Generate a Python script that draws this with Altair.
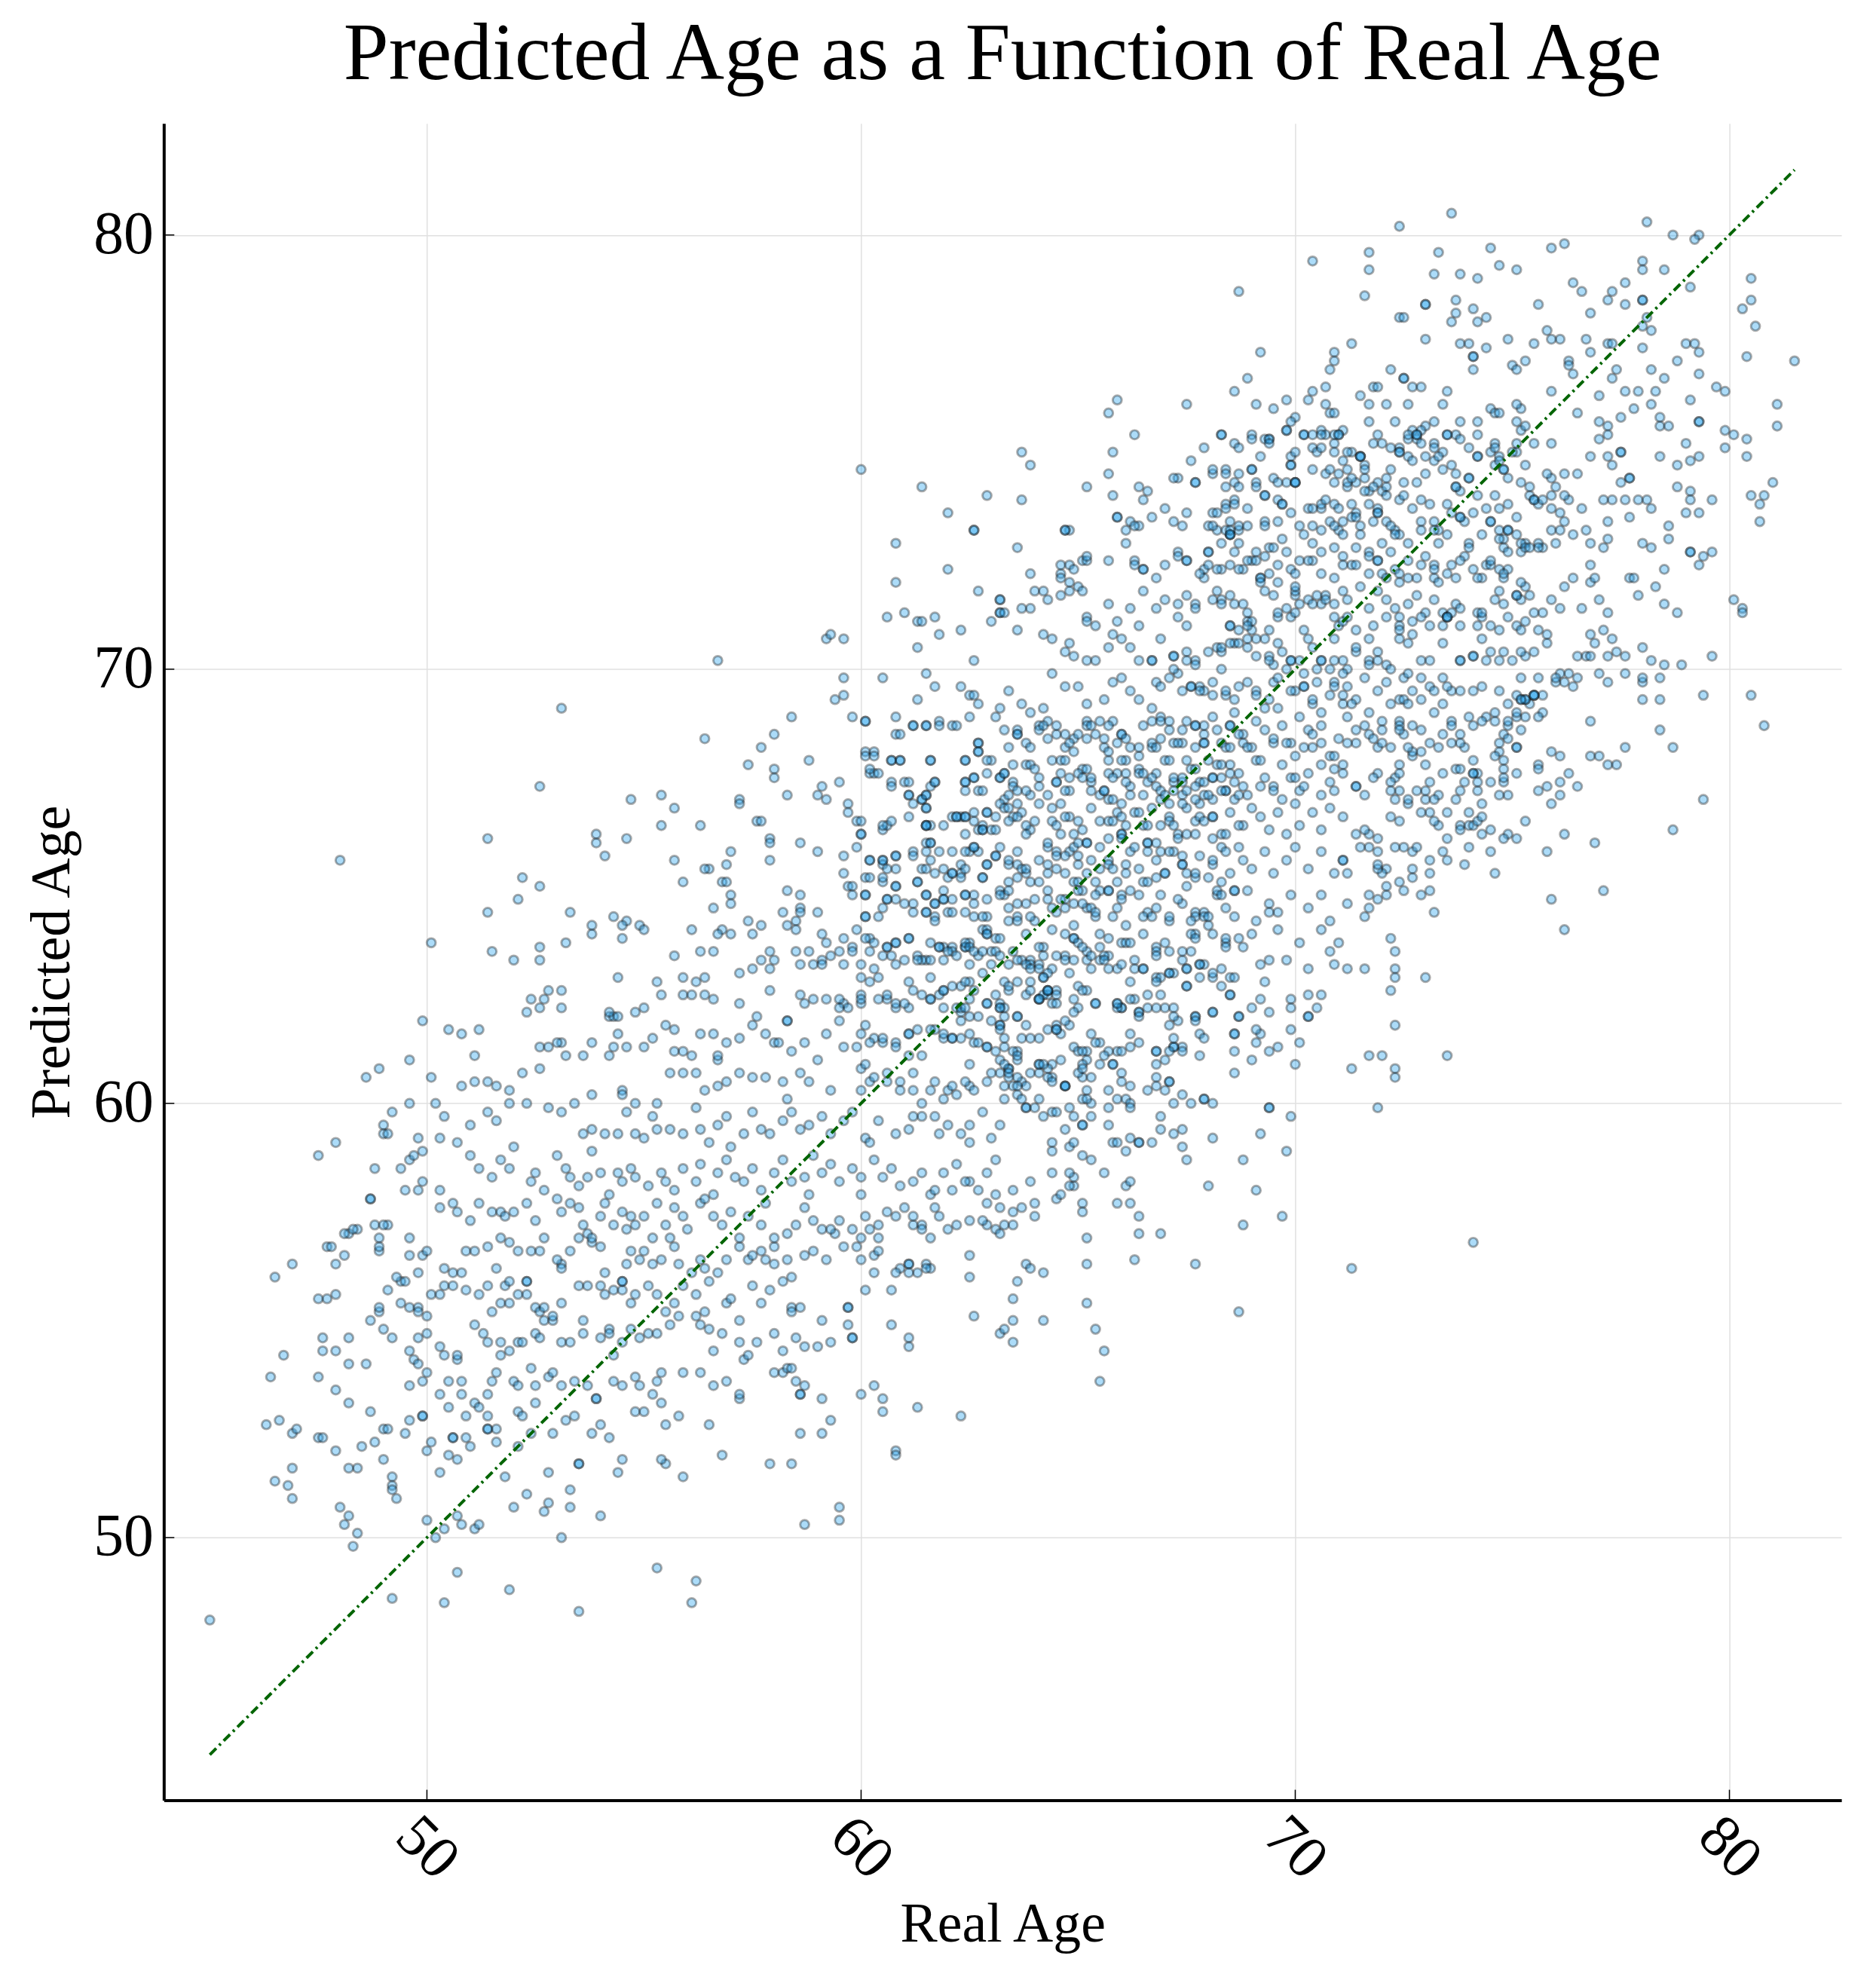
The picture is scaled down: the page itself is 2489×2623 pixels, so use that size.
import altair as alt
import pandas as pd

# ---- scatter values (real age, predicted age), read region by region ----
upper_left = [(60.0,74.6),(61.4,74.2),(62.9,74.0),(62.0,73.6),(62.6,73.2),(62.6,73.2),(60.8,72.9),(62.0,72.3),(60.8,72.0),(62.7,71.8),(63.2,71.6),(60.6,71.2),(61.0,71.3),(61.3,71.1),(61.4,71.1),(61.7,71.2),(62.3,70.9),(63.0,71.1),(63.2,71.3),(61.8,70.8),(59.2,70.7),(59.3,70.8),(59.6,70.7),(61.3,70.5),(62.6,70.2),(56.7,70.2),(59.6,69.8),(60.5,69.8),(61.5,69.9),(61.7,69.6),(62.3,69.6),(62.5,69.4),(62.6,69.4),(62.7,69.2),(59.4,69.3),(59.6,69.4),(61.3,69.3),(53.1,69.1),(58.4,68.9),(59.8,68.9),(60.1,68.8),(60.8,68.9),(61.2,68.7),(61.5,68.7),(61.8,68.8),(62.1,68.7),(62.5,68.9),(63.1,68.9),(56.4,68.4),(58.0,68.5),(60.8,68.5),(57.7,68.2),(62.7,68.3),(62.7,68.1),(63.0,67.9),(60.1,68.1),(60.3,68.1),(60.7,67.9),(60.9,67.9),(61.6,67.9),(62.4,67.9),(57.4,67.8),(58.8,67.9),(58.0,67.7),(58.0,67.5),(60.2,67.6),(60.3,67.6),(60.7,67.4),(61.0,67.4),(61.7,67.4),(61.5,67.1),(62.4,67.4),(62.6,67.5),(62.7,67.2),(62.9,66.7),(63.2,67.5),(63.3,67.0),(59.1,67.3),(59.5,67.4),(59.0,67.1),(59.2,67.0),(58.3,67.1),(57.2,67.0),(57.2,66.9),(52.6,67.3),(54.7,67.0),(55.4,67.1),(55.7,66.8),(59.7,66.9),(59.7,66.7),(59.9,66.5),(61.1,67.1),(61.4,67.0),(61.5,66.8),(62.1,66.6),(62.3,66.6),(62.4,66.6),(62.6,66.5),(62.8,66.4),(62.7,66.3),(63.1,66.6),(61.5,66.4),(61.6,66.4),(56.3,66.4),(55.4,66.4),(57.6,66.5),(57.7,66.5),(60.5,66.3),(60.6,66.4),(60.0,66.2),(57.9,66.1),(57.9,66.0),(58.6,66.0),(57.0,65.8),(59.0,65.8),(59.6,65.7),(59.9,65.9),(60.2,65.6),(60.5,65.6),(60.8,65.7),(61.2,65.8),(61.5,65.8),(61.6,66.0),(61.8,65.8),(62.1,65.8),(62.5,65.8),(62.7,65.8),(63.1,65.7),(51.4,66.1),(53.9,66.2),(53.9,66.0),(54.1,65.7),(54.6,66.1),(48.0,65.6),(55.7,65.6),(57.9,65.6),(56.5,65.4),(56.4,65.4),(56.9,65.5),(60.5,65.5),(60.8,65.4),(61.4,65.4),(61.7,65.3),(62.0,65.2),(62.1,65.3),(62.3,65.5),(62.3,65.3),(62.9,65.5),(55.9,65.1),(56.8,65.1),(56.9,65.1),(57.0,64.8),(58.3,64.9),(58.6,64.8),(59.6,65.3),(59.7,65.0),(59.8,65.0),(60.1,65.2),(59.8,64.8),(60.1,64.8),(60.5,65.1),(60.8,65.0),(61.3,65.1),(61.5,64.8),(61.9,64.9),(61.9,64.7),(61.7,64.6),(62.1,64.7),(62.4,64.8),(62.6,64.8),(62.8,65.2),(62.9,64.7),(63.2,64.9),(60.6,64.7),(52.2,65.2),(52.1,64.7),(52.6,65.0),(56.6,64.5),(57.0,64.6),(59.0,64.4),(58.6,64.5),(58.6,64.4),(58.2,64.4),(60.8,64.7),(61.2,64.6),(61.5,64.4),(61.7,64.3),(62.0,64.4),(62.4,64.4),(62.6,64.3),(62.9,64.3),(51.4,64.4),(53.3,64.4),(54.3,64.3),(54.6,64.2),(54.5,64.1),(54.9,64.1),(55.0,64.0),(53.8,64.1),(53.8,63.9),(54.5,63.8),(58.5,64.2),(58.3,64.1),(58.5,64.0),(60.1,64.3),(60.4,64.3),(57.4,64.2),(57.7,64.1),(56.8,64.0),(56.7,63.9),(57.0,63.9),(56.1,64.0),(57.5,63.9),(59.1,63.9),(59.2,63.7),(59.9,64.0),(59.6,63.8),(59.8,63.6),(60.2,63.8),(60.6,63.6),(60.8,63.7),(61.1,63.8),(61.6,63.7),(61.9,63.6),(62.1,63.6),(62.4,63.6),(62.5,63.7),(62.8,64.0),(62.9,63.9),(63.1,63.8),(50.1,63.7),(51.5,63.5),(53.2,63.7),(52.6,63.6),(55.7,63.4),(56.3,63.5),(56.6,63.5),(57.9,63.5),(57.7,63.3),(58.0,63.3),(58.5,63.5),(58.8,63.5),(59.1,63.3),(59.3,63.4),(59.5,63.5),(59.8,63.5),(60.2,63.5),(60.5,63.4),(60.7,63.4),(61.0,63.3),(61.3,63.4),(61.5,63.3),(61.8,63.6),(62.1,63.5),(62.4,63.6),(62.7,63.4),(63.0,63.5)]

lower_left = [(45.0,48.1),(49.2,48.6),(50.7,49.2),(50.4,48.5),(51.9,48.8),(53.1,50.0),(53.5,48.3),(55.3,49.3),(56.2,49.0),(56.1,48.5),(48.3,49.8),(48.4,50.1),(48.1,50.3),(48.0,50.7),(48.2,50.5),(46.9,50.9),(46.8,51.2),(46.5,51.3),(46.9,51.6),(50.0,50.4),(50.2,50.0),(50.4,50.2),(50.8,50.3),(51.1,50.2),(51.2,50.3),(50.7,50.5),(52.0,50.7),(52.3,51.0),(52.7,50.6),(52.8,50.8),(53.3,50.7),(54.0,50.5),(51.8,51.4),(52.8,51.5),(53.3,51.1),(53.5,51.7),(53.5,51.7),(54.4,51.5),(54.5,51.8),(55.5,51.7),(55.4,51.8),(55.9,51.4),(56.8,51.9),(57.9,51.7),(58.4,51.7),(58.7,50.3),(59.5,50.4),(59.5,50.7),(60.8,52.0),(60.8,51.9),(62.3,52.8),(63.2,54.7),(62.6,55.1),(62.5,56.0),(62.5,56.5),(61.3,53.0),(60.7,54.9),(60.5,53.2),(60.3,53.5),(60.0,53.3),(60.5,52.9),(59.7,55.3),(59.7,54.9),(59.8,54.6),(60.1,55.7),(60.7,55.7),(61.1,56.3),(60.3,56.1),(60.9,56.2),(61.5,56.3),(61.6,56.2),
(49.2,51.4),(49.2,51.2),(49.2,51.1),(49.3,50.9),(49.0,51.8),(48.4,51.6),(48.2,51.6),(47.5,52.3),(50.3,51.5),(50.7,51.8),(50.5,51.9),
(46.3,52.6),(46.6,52.7),(46.9,52.4),(47.0,52.5),(47.6,52.3),(47.9,52.0),(48.5,52.1),(48.8,52.2),(49.5,52.4),(49.6,52.7),(49.9,52.8),(49.9,52.8),(50.0,52.0),(50.1,52.2),(50.6,52.3),(50.6,52.3),(50.9,52.3),(51.0,52.1),(50.5,53.0),(50.9,52.8),(51.4,52.8),(51.4,52.5),(51.4,52.5),(51.6,52.5),(51.6,52.2),(52.1,52.9),(52.2,52.8),(52.4,52.4),(52.5,53.1),(52.1,52.1),(52.9,52.4),(53.2,52.7),(53.4,52.8),(53.8,52.4),(54.0,52.6),(53.9,53.2),(54.2,52.3),(54.8,52.9),(55.0,52.9),(55.2,53.3),(55.4,53.1),(55.5,52.6),(55.8,52.8),(56.5,52.6),(57.2,53.2),(58.6,52.4),(59.1,52.4),(59.3,52.7),(59.1,53.2),(58.6,53.3),
(47.9,53.4),(48.2,53.1),(48.7,52.9),(49.0,52.5),(49.1,52.5),(49.6,53.5),(49.9,53.6),(50.0,53.8),(50.3,53.3),(50.5,53.6),(50.8,53.6),(50.8,53.3),(51.1,53.1),(51.2,53.0),(51.4,53.3),(51.5,53.6),(51.6,53.8),(52.0,53.6),(52.1,53.5),(52.4,53.9),(52.5,53.5),(52.8,53.7),(52.9,53.8),(53.1,53.5),(53.4,53.6),(53.7,53.5),(53.9,53.2),(54.3,53.6),(54.5,53.5),(54.8,53.7),(54.9,53.5),(55.3,53.6),(55.4,53.8),(55.9,53.8),(56.3,53.8),(56.6,53.5),(56.9,53.6),(57.2,53.3),(57.3,54.1),(58.0,53.8),(58.2,53.8),(58.3,53.9),(58.4,53.9),(58.5,53.6),(58.6,53.3),(58.7,53.5),
(47.6,54.3),(47.6,54.6),(47.9,54.3),(48.2,54.6),(48.2,54.0),(46.7,54.2),(46.4,53.7),(47.5,53.7),(48.6,54.0),(49.0,54.8),(49.2,54.6),(49.6,54.3),(49.7,54.1),(49.8,54.0),(49.8,54.6),(50.0,54.7),(50.3,54.4),(50.4,54.2),(50.7,54.1),(50.7,54.2),(51.1,54.9),(51.3,54.7),(51.4,54.5),(51.7,54.5),(51.7,54.2),(51.9,54.3),(52.1,54.5),(52.2,54.5),(52.5,54.7),(52.6,54.6),(52.7,55.0),(52.9,55.0),(53.1,54.5),(53.3,54.5),(53.6,54.7),(53.6,55.0),(54.0,54.6),(54.2,54.8),(54.2,54.7),(54.3,54.2),(54.5,54.5),(54.7,54.8),(54.9,54.6),(55.1,54.7),(55.3,54.7),(55.6,54.9),(55.8,55.1),(56.2,55.1),(56.3,54.9),(56.5,54.8),(56.6,54.3),(56.8,54.7),(57.2,54.5),(57.4,54.2),(57.6,54.5),(58.0,54.7),(58.2,54.3),(58.5,54.6),(58.7,54.4),(59.0,54.4),(59.3,54.5),(59.8,54.6),(61.1,54.6),(61.1,54.4),
(47.5,55.5),(47.7,55.5),(47.9,55.6),(48.9,55.2),(49.1,55.7),(49.4,55.9),(48.9,55.3),(48.7,55.0),(49.4,55.4),(49.6,55.3),(49.8,55.3),(49.8,55.2),(50.0,55.1),(50.4,55.8),(50.6,55.8),(50.9,55.7),(51.2,55.6),(51.4,55.8),(51.5,55.2),(51.7,55.4),(51.9,55.4),(52.1,55.6),(52.3,55.6),(52.5,55.3),(52.6,55.2),(52.7,55.3),(52.9,55.1),(53.1,55.4),(53.5,55.8),(53.7,55.8),(54.0,55.8),(54.1,55.6),(54.3,55.7),(54.5,55.7),(54.7,55.4),(54.8,55.6),(55.1,55.8),(55.3,55.6),(55.5,55.2),(55.7,55.4),(55.9,55.8),(56.2,55.6),(56.4,55.2),(56.5,55.9),(56.9,55.4),(57.0,55.5),(57.2,55.0),(57.5,55.8),(57.7,55.4),(57.9,55.7),(58.2,55.9),(58.4,55.3),(58.4,55.2),(58.6,55.3),(59.1,55.0),(59.7,55.3),
(47.7,56.7),(47.8,56.7),(47.9,56.3),(48.1,56.5),(46.9,56.3),(46.5,56.0),(48.4,57.1),(48.2,57.0),(48.9,56.6),(49.3,56.0),(49.5,55.9),(49.6,56.5),(49.8,56.1),(50.1,55.6),(50.3,55.6),(50.4,56.2),(50.6,56.1),(50.8,56.1),(50.9,56.6),(51.1,56.6),(51.4,56.7),(51.6,56.2),(51.7,56.9),(51.9,56.8),(52.1,56.6),(51.8,55.8),(51.9,55.9),(52.3,55.9),(52.3,55.9),(52.4,56.6),(52.6,56.6),(53.1,56.3),(53.1,56.2),(53.0,56.4),(53.3,56.6),(53.5,56.9),(53.7,57.0),(53.8,56.8),(54.0,56.7),(54.1,56.1),(54.5,55.9),(54.5,55.9),(54.6,56.3),(54.7,56.6),(54.9,56.4),(55.0,56.6),(55.2,56.3),(55.4,56.4),(55.6,56.9),(55.7,56.7),(55.8,56.3),(56.1,56.1),(56.3,56.4),(56.4,56.2),(56.7,56.1),(56.9,56.4),(57.2,56.7),(57.4,56.4),(57.5,56.5),(57.7,56.6),(57.8,56.4),(58.0,56.3),(58.3,56.4),(58.4,56.0),(58.7,56.5),(58.9,56.6),(59.2,56.4),(59.4,57.0),(59.6,56.7),(59.9,56.7),(60.0,56.4),(60.3,56.5),(60.4,56.6),(60.8,56.1),(61.1,56.3),(61.3,56.1),(61.5,56.2),(61.1,56.1),
(48.8,57.2),(49.1,57.2),(48.9,56.9),(48.9,56.7),(49.0,57.2),(49.6,56.9),(49.9,56.5),(50.0,56.6),(48.1,57.0),(48.3,57.1),(48.7,57.8),(50.3,57.6),(50.6,57.7),(50.7,57.5),(51.0,57.3),(51.2,57.7),(51.5,57.5),(51.7,57.5),(51.8,57.4),(52.0,57.5),(52.3,57.7),(52.5,57.3),(52.7,56.9),(53.0,57.8),(53.1,57.5),(53.3,57.7),(53.5,57.6),(53.6,57.2),(53.8,56.9),(54.0,57.4),(54.1,57.7),(54.3,57.2),(54.5,57.5),(54.6,57.1),(54.7,57.4),(54.8,57.2),(55.0,57.4),(55.2,56.9),(55.3,57.7),(55.5,57.2),(55.7,57.6),(55.9,57.4),(56.0,57.1),(56.3,57.7),(56.4,57.8),(56.6,57.4),(56.8,57.2),(57.0,57.5),(57.2,56.9),(57.4,57.4),(57.7,57.2),(57.8,57.7),(58.0,56.7),(58.0,56.9),(58.3,57.0),(58.5,57.2),(58.7,57.6),(58.8,57.9),(58.9,57.3),(59.1,57.1),(59.3,57.1),(59.5,57.3),(59.8,57.1),(60.0,57.9),(60.1,57.4),(60.2,57.1),(60.4,56.9),(60.6,57.5),(60.8,57.4),(61.0,57.6),(61.2,57.2),(61.4,57.2),(61.6,57.9),(61.7,57.6),(62.0,57.1),(62.2,57.2),(62.5,57.3),(62.9,57.2),(63.1,57.1),(60.0,56.9),(60.4,57.2),(61.4,57.1),(61.6,56.9),(61.2,57.4),(61.8,57.4),(62.8,57.3),(62.9,57.7),(63.2,57.6),
(48.8,58.5),(49.6,58.7),(49.7,58.8),(49.9,58.9),(48.7,57.8),(49.4,58.5),(49.9,58.2),(49.5,58.0),(49.8,58.0),(50.3,58.0),(51.0,58.8),(51.2,58.5),(51.5,58.3),(51.7,58.7),(51.9,58.5),(52.0,59.0),(52.4,58.2),(52.5,58.4),(52.7,58.0),(53.0,58.8),(53.2,58.5),(53.3,58.3),(53.5,58.1),(53.7,58.3),(53.8,58.9),(54.0,58.4),(54.2,57.9),(54.4,58.4),(54.5,58.2),(54.7,58.5),(54.8,58.3),(55.1,58.1),(55.4,58.4),(55.5,58.2),(55.7,58.0),(55.9,58.5),(56.2,58.2),(56.3,58.6),(56.6,57.9),(56.7,58.4),(56.9,58.7),(57.1,58.3),(57.3,58.2),(57.5,58.5),(57.7,58.0),(58.0,58.4),(58.2,58.7),(58.4,58.2),(58.7,58.3),(58.9,58.8),(59.1,58.4),(59.3,58.6),(59.5,58.2),(59.8,58.5),(60.0,58.3),(60.3,58.7),(60.5,58.3),(60.7,58.5),(60.9,58.1),(61.2,58.2),(61.4,58.4),(61.7,58.0),(61.9,58.4),(62.2,58.6),(62.5,58.2),(62.9,58.4),(63.1,58.7),(62.1,58.0),(62.4,58.2),(62.7,58.0),(63.1,57.9),
(49.6,60.0),(50.2,60.0),(49.2,59.8),(49.0,59.5),(47.9,59.1),(47.5,58.8),(49.0,59.3),(49.1,59.3),(49.8,59.2),(50.3,59.2),(50.7,59.1),(50.4,59.7),(51.0,59.5),(51.4,59.8),(51.6,59.6),(51.9,60.0),(52.3,60.0),(52.8,59.9),(53.1,59.8),(53.6,59.3),(53.8,59.4),(54.1,59.3),(54.4,59.3),(54.6,59.8),(54.8,59.3),(55.0,59.2),(55.2,59.7),(55.3,59.4),(55.6,59.4),(55.9,59.3),(56.2,59.9),(56.3,59.4),(56.5,59.1),(56.7,59.5),(56.9,59.7),(57.0,59.0),(57.3,59.3),(57.5,59.8),(57.7,59.4),(57.9,59.3),(58.2,59.6),(58.4,59.8),(58.6,59.4),(58.8,59.5),(59.1,59.7),(59.3,59.3),(59.6,59.6),(59.8,59.8),(60.1,59.2),(60.2,59.1),(60.4,59.6),(60.8,59.3),(61.1,59.4),(61.4,59.7),(61.7,59.7),(62.0,59.5),(62.3,59.3),(62.5,59.5),(62.8,59.8),(63.0,59.2),(62.5,59.1),(63.2,59.5),(61.2,59.7),(61.8,59.3),
(48.6,60.6),(48.9,60.8),(49.6,61.0),(50.1,60.6),(50.8,60.4),(51.1,60.5),(51.4,60.5),(51.6,60.4),(51.9,60.3),(52.2,60.7),(53.4,60.0),(53.8,60.2),(54.5,60.3),(54.5,60.2),(54.8,60.0),(55.3,60.0),(55.6,60.7),(55.9,60.7),(56.2,60.7),(56.4,60.3),(56.7,60.4),(56.9,60.5),(57.2,60.7),(57.5,60.6),(57.8,60.6),(58.2,60.5),(58.3,60.1),(58.6,60.7),(58.8,60.5),(59.3,60.3),(60.0,60.8),(60.0,60.3),(60.2,60.5),(60.6,60.5),(60.9,60.5),(61.2,60.3),(61.4,60.0),(61.7,60.5),(62.0,60.3),(62.2,60.2),(62.5,60.4),(62.9,60.5),(63.2,60.7),
(49.9,61.9),(50.5,61.7),(50.8,61.6),(51.2,61.7),(51.1,61.1),(52.6,61.3),(52.6,60.8),(53.1,61.4),(52.8,61.3),(53.0,61.4),(53.2,61.1),(53.6,61.1),(53.8,61.4),(54.2,61.1),(54.3,61.3),(54.2,62.0),(54.3,62.0),(54.4,61.6),(54.6,61.3),(55.0,61.3),(55.2,61.5),(55.5,61.8),(55.7,61.7),(55.7,61.2),(55.9,61.2),(56.1,61.1),(56.3,61.6),(56.6,61.6),(56.7,61.0),(56.7,61.1),(56.9,61.4),(57.2,61.5),(57.5,61.8),(57.8,61.6),(58.0,61.4),(58.1,61.4),(58.3,61.9),(58.4,61.2),(58.7,61.4),(59.0,61.0),(59.2,61.6),(59.5,61.9),(59.6,62.3),(59.6,61.3),(59.9,61.3),(60.0,61.6),(60.3,61.5),(60.5,61.4),(60.8,61.4),(61.1,61.6),(61.1,61.1),(61.4,61.1),(61.7,61.7),(61.9,61.5),(62.1,61.5),(62.3,61.9),(62.6,61.4),(62.9,61.3),(63.2,61.8),(62.7,62.0),(63.0,61.9),(62.5,60.9),(63.2,61.0),
(52.0,63.3),(52.6,63.3),(54.4,62.9),(55.3,62.8),(55.9,62.9),(56.2,62.8),(56.4,62.9),(57.2,63.0),(57.5,63.1),(57.9,63.1),(58.6,63.2),(58.9,63.2),(59.1,63.2),(59.6,63.2),(60.0,63.2),(60.3,63.1),(60.8,63.2),(61.4,63.3),(61.9,63.3),(62.5,63.2),(63.0,63.2),(60.0,62.9),(60.4,62.9),(61.1,62.8),(61.6,62.9),(61.9,62.6),(62.3,62.7),(62.5,62.8),(62.8,63.0),(52.8,62.6),(53.1,62.6),(52.4,62.4),(52.7,62.4),(52.3,62.1),(52.6,62.2),(53.1,62.2),(54.2,62.1),(54.4,62.0),(54.8,62.1),(55.0,62.2),(55.4,62.5),(55.9,62.5),(56.1,62.5),(56.4,62.5),(56.6,62.4),(57.2,62.3),(57.6,62.0),(57.9,62.6),(58.3,61.9),(58.6,62.5),(58.7,62.3),(58.9,62.4),(59.2,62.4),(59.5,62.4),(59.5,62.2),(59.7,62.2),(60.0,62.5),(60.0,62.3),(60.4,62.4),(60.6,62.4),(60.8,62.2),(61.1,62.2),(61.4,62.5),(61.6,62.4),(61.8,62.5),(62.2,62.2),(62.3,62.1),(62.5,62.4),(62.5,62.0),(62.9,62.3),(63.2,62.2)]

upper_right = [(73.6,80.5),(72.4,80.2),(78.1,80.3),(78.7,80.0),(79.3,80.0),(79.2,79.9),(76.2,79.8),(75.9,79.7),(71.7,79.6),(73.3,79.6),(74.5,79.7),(70.4,79.4),(71.7,79.2),(73.2,79.1),(73.8,79.1),(74.2,79.0),(74.7,79.3),(75.1,79.2),(78.0,79.4),(78.0,79.2),(78.5,79.2),(76.4,78.9),(76.6,78.7),(77.6,78.9),(77.3,78.7),(77.2,78.5),(79.1,78.8),(80.5,79.0),(80.5,78.5),(80.3,78.3),(80.6,77.9),(78.0,78.5),(78.0,78.5),(77.6,78.4),(78.1,78.1),(78.0,77.9),(78.2,77.8),(68.7,78.7),(71.6,78.6),(73.0,78.4),(73.0,78.4),(72.4,78.1),(72.5,78.1),(73.7,78.5),(73.7,78.2),(73.6,78.0),(74.1,78.3),(74.4,78.1),(74.2,78.0),(75.6,78.4),(75.8,77.8),(76.1,77.6),(75.9,77.6),(75.5,77.5),(76.7,77.6),(76.8,78.2),(77.2,77.5),(74.9,77.6),(73.8,77.5),(74.0,77.5),(74.4,77.4),(73.0,77.6),(69.2,77.3),(71.3,77.5),(70.9,77.3),(70.9,77.1),(70.8,76.9),(74.1,76.9),(74.1,77.2),(74.1,77.2),(75.0,77.0),(75.1,76.9),(75.3,77.1),(76.3,77.1),(76.3,77.0),(76.8,77.3),(77.3,77.5),(78.0,77.4),(78.8,77.1),(79.0,77.5),(79.2,77.5),(79.3,77.3),(80.4,77.2),(81.5,77.1),(77.4,76.9),(77.3,76.7),(76.4,76.8),(78.2,76.9),(78.5,76.7),(79.3,76.8),(77.0,76.3),(77.6,76.4),(77.9,76.4),(78.3,76.4),(78.2,76.1),(79.1,76.2),(79.7,76.5),(79.9,76.4),(81.1,76.1),(75.9,76.4),(75.2,76.0),(76.5,75.9),(77.0,75.7),(77.2,75.6),(77.5,75.8),(77.8,76.0),(78.4,75.8),(78.4,75.6),(78.6,75.6),(79.3,75.7),(79.3,75.7),(79.0,75.2),(79.9,75.5),(80.1,75.4),(80.4,75.3),(79.9,75.1),(81.1,75.6),(80.4,74.9),(79.1,74.8),(79.3,74.9),(78.8,74.7),(78.4,74.9),(78.8,74.2),(79.1,74.1),(81.0,74.3),(80.8,74.0),(80.5,74.0),(80.7,73.8),(80.7,73.4),(79.6,73.9),(79.3,73.6),(79.1,73.9),(79.0,73.6),(78.6,73.3),(78.6,73.0),(79.1,72.7),(79.1,72.7),(79.3,72.4),(79.6,72.7),(79.4,72.6),(78.5,72.3),(78.0,72.9),(78.2,72.8),(77.7,72.1),(77.8,72.1),(78.3,71.9),(77.9,71.7),(78.8,71.3),(78.5,71.5),(80.1,71.6),(80.3,71.4),(80.3,71.3),(78.0,70.5),(79.6,70.3),(78.9,70.1),(78.4,69.8),(78.0,69.7),(79.4,69.4),(80.5,69.4),(80.8,68.7),(79.4,67.0),(78.7,66.3),(76.9,66.0),(77.1,64.9),(76.2,64.0),(75.9,64.7),(74.6,65.3),(75.8,65.8),(76.2,66.2),(76.3,67.6),(76.5,67.3),(75.6,67.8),(73.2,64.4),
(76.8,74.9),(77.0,75.3),(77.2,75.4),(77.5,75.0),(77.5,75.0),(77.3,74.7),(77.2,74.9),(77.7,74.4),(77.7,74.4),(77.5,74.3),(77.6,73.9),(77.9,73.9),(78.1,73.9),(78.2,73.7),(77.7,73.5),(77.2,73.4),(77.2,73.0),(77.3,73.9),(77.1,73.9),(76.8,72.9),(76.8,72.4),(76.7,73.2),(77.1,72.8),(76.3,73.9),(76.6,73.7),(76.2,74.0),(76.2,73.4),(76.4,73.1),(75.9,74.0),(75.9,74.4),(76.2,74.5),(76.5,74.5),(75.8,74.5),(75.4,74.0),(75.5,73.9),(75.4,74.2),(75.6,73.8),(75.9,73.7),(76.1,73.6),(76.0,72.9),(75.7,72.8),(75.6,72.9),(75.3,72.9),(75.2,72.7),(74.8,72.8),(74.9,72.7),(75.1,71.7),(75.2,71.6),(75.4,71.7),(75.3,71.9),(75.7,71.3),(75.6,70.9),(76.2,71.9),(76.4,72.1),(76.6,71.4),(76.8,72.0),(76.9,72.1),(77.0,71.6),(77.2,71.3),(77.1,70.9),(76.8,70.8),(76.9,70.6),(76.5,70.3),(76.7,70.3),(76.8,70.3),(77.2,70.3),(77.4,70.4),(76.3,69.9),(76.5,69.8),(77.0,69.9),(77.2,69.7),(76.2,69.7),(76.4,69.6),(76.0,69.7),(76.1,69.9),(78.0,69.8),(77.6,69.9),(77.6,70.3),(77.3,70.7),(76.1,71.4),(75.8,70.8),(75.5,70.4),(75.3,70.3),(75.0,70.2),(75.2,69.8),(75.6,69.8),(76.0,69.8),(75.7,69.4),(75.4,69.2),(75.7,69.0),(75.2,69.3),(75.3,69.3),(75.5,69.4),(75.3,68.9),(74.9,68.7),(74.6,68.8),(74.4,68.9),(74.8,68.5),(74.7,68.1),(74.6,68.0),(74.8,67.9),(74.8,67.4),(75.1,69.4),(74.9,69.2),(74.1,68.7),(73.8,68.5),(73.9,68.2),(74.1,67.9),(74.2,67.6),(74.2,67.2),(74.3,66.9),(74.0,66.7),(73.8,66.4),(73.5,66.7),(73.7,67.0),(73.3,66.4),(73.1,66.7),(73.0,67.0),(73.0,67.2),(73.1,67.4),(73.0,67.8),(72.7,68.0),(72.3,67.5),(72.4,67.2),(72.3,67.0),(72.2,66.6),(72.4,66.5),(71.9,66.1),(71.7,65.9),(71.9,65.8),(71.7,66.2),(71.6,66.3),(72.1,65.4),(72.0,65.3),(71.9,65.4),(71.7,64.8),(71.9,64.7),(72.1,64.8),(72.4,65.1),(72.7,65.2),(72.7,65.8),(72.5,65.9),(72.3,65.9),(72.8,65.9),(73.2,66.5),(73.4,65.8),(73.5,66.1),(74.0,66.4),(73.8,66.3),(74.1,66.4),(74.3,66.2),(74.5,66.3),(74.9,66.2),(74.0,65.9),(74.9,68.4),(75.1,68.9),(75.6,67.2),(75.8,67.3),(75.9,66.9),(76.1,67.1),(75.9,68.1),(76.1,68.0),(76.1,67.4),(76.8,68.0),(77.0,68.0),(77.2,67.8),(77.4,67.8),(75.6,68.9),(75.2,68.6),(78.2,70.2),(78.5,70.1),(78.0,69.3),(78.4,69.3),(78.7,68.2),(78.4,68.6),(76.8,68.8),(77.6,68.2),
(65.7,75.9),(65.9,76.2),(67.5,76.1),(68.6,76.4),(68.9,76.7),(69.1,76.1),(69.5,76.0),(69.8,76.2),(70.0,75.8),(70.3,76.2),(70.4,76.4),(70.7,76.5),(70.7,76.1),(70.8,75.9),(70.9,75.9),(71.5,76.3),(71.7,76.1),(71.8,76.5),(71.9,76.5),(72.2,76.9),(72.5,76.7),(72.5,76.7),(72.7,76.5),(72.9,76.5),(72.1,76.1),(72.6,76.1),(73.5,76.4),(73.4,76.1),(73.8,75.7),(74.2,75.7),(74.5,76.0),(74.6,75.9),(74.7,75.9),(75.1,76.1),(73.2,75.7),(73.0,75.6),(73.5,75.4),(73.7,75.4),(72.7,75.5),(72.9,75.5),(72.8,75.3),(72.6,75.3),(71.7,75.7),(71.9,75.4),(72.3,75.7),(72.0,75.2),(71.1,75.5),(70.9,75.2),(70.6,75.5),(70.7,75.4),(71.0,75.4),(70.2,75.4),(69.9,75.7),(69.8,75.5),(69.4,75.3),(69.3,75.3),(69.0,75.4),(68.6,75.2),(68.3,75.4),(67.9,75.1),(66.3,75.4),(65.2,74.2),(64.8,73.2),(65.7,74.5),(65.8,75.0),(63.7,75.0),(63.9,74.7),(63.7,73.9),(63.6,72.8),(63.9,72.2),(64.0,71.8),(63.9,71.4),(63.2,71.6),(63.2,71.3),(64.7,73.2),(64.7,73.2),(65.1,72.5),(65.2,72.5),(64.6,72.2),(64.6,72.1),(65.0,71.9),(64.8,72.0),(66.3,72.5),(66.5,72.3),(66.7,73.5),(66.4,73.3),(66.1,72.9),(65.7,72.5),(66.1,73.2),(66.2,73.4),(65.9,73.5),
(66.4,74.2),(66.6,74.1),(66.5,73.9),(65.8,74.0),(65.9,73.5),(66.3,73.3),(67.3,74.4),(67.7,74.3),(68.1,74.5),(68.4,74.6),(68.6,74.3),(68.7,74.5),(69.0,74.6),(69.2,74.9),(69.4,75.3),(69.1,74.3),(69.3,74.0),(69.6,73.9),(69.7,73.8),(69.5,74.4),(69.8,74.3),(70.0,74.3),(70.0,74.3),(69.9,74.9),(69.9,74.7),(70.4,75.1),(70.5,75.0),(70.6,75.1),(70.9,75.0),(71.1,74.8),(71.3,75.0),(71.5,74.9),(71.5,74.9),(71.6,74.7),(70.7,74.5),(71.0,74.5),(71.2,74.2),(71.4,74.3),(71.6,74.4),(71.7,74.1),(72.0,74.1),(72.1,74.2),(71.9,74.3),(72.2,74.6),(72.4,75.1),(72.4,75.0),(72.6,74.9),(72.8,75.4),(72.7,74.8),(73.0,74.9),(73.2,75.2),(73.2,74.8),(73.4,75.0),(73.6,74.7),(73.7,74.5),(73.7,74.2),(73.8,74.1),(74.0,74.4),(74.2,74.9),(74.5,75.0),(74.7,74.9),(74.6,75.2),(74.6,74.7),(74.8,74.6),(74.9,74.4),(75.1,75.0),(75.1,75.2),(75.2,75.5),(75.3,75.6),(75.1,75.7),
(67.0,73.7),(67.2,73.4),(67.5,73.6),(68.0,73.3),(68.2,73.2),(68.1,73.6),(68.4,73.8),(68.6,73.9),(68.5,73.4),(68.7,73.2),(68.9,73.7),(69.3,73.4),(69.6,73.4),(69.9,73.6),(70.1,73.3),(70.4,73.3),(70.3,73.7),(70.6,73.7),(70.8,73.4),(71.0,73.2),(71.1,73.4),(71.4,73.6),(71.5,73.3),(71.7,73.8),(71.9,73.6),(72.1,73.4),(72.3,73.2),(72.4,73.1),(72.4,73.9),(72.5,74.0),(72.7,73.7),(72.9,73.4),(73.1,73.8),(73.2,73.4),(73.3,73.2),(73.5,73.8),(73.6,73.6),(73.8,73.5),(73.9,73.4),(74.1,73.6),(74.4,73.7),(74.5,73.4),(74.6,74.0),(74.7,73.2),(74.8,73.0),(75.1,73.5),(74.9,73.2),(75.1,73.1),
(64.6,72.4),(64.8,72.4),(64.9,72.3),(65.2,72.6),(66.3,72.4),(66.5,72.3),(66.8,72.1),(67.0,72.4),(67.3,72.7),(67.5,72.5),(67.9,72.3),(68.0,72.7),(68.3,72.3),(68.5,73.1),(68.5,73.1),(68.6,72.7),(68.8,72.3),(69.0,72.5),(69.1,72.7),(69.3,72.6),(69.6,72.4),(69.8,72.7),(69.9,72.3),(70.1,72.5),(70.4,72.5),(70.6,72.7),(70.9,72.8),(71.1,72.6),(71.3,72.4),(71.4,72.8),(71.7,72.7),(71.9,72.5),(72.0,72.9),(72.2,72.7),(72.3,72.3),(72.4,72.2),(72.6,72.5),(72.8,72.1),(73.0,72.6),(73.2,72.4),(73.2,72.1),(73.5,72.2),(73.7,72.1),(73.9,72.6),(74.1,72.3),(74.4,72.4),(74.5,72.4),(74.8,72.1),(74.9,72.3),
(63.3,71.3),(63.6,70.9),(63.7,71.4),(64.2,71.8),(64.3,71.6),(64.6,71.7),(64.8,71.8),(65.1,71.8),(65.2,71.2),(65.4,71.0),(65.7,71.5),(65.9,71.1),(66.2,71.4),(66.4,71.0),(66.5,71.8),(66.8,71.4),(67.0,71.6),(67.3,71.5),(67.5,71.7),(67.7,71.5),(67.9,72.1),(68.2,71.8),(68.3,71.6),(68.5,71.7),(68.6,71.5),(68.8,71.5),(68.9,71.1),(69.2,72.1),(69.3,71.8),(69.5,71.7),(69.6,71.2),(69.8,71.4),(70.0,71.7),(70.0,71.8),(70.1,71.5),(70.3,71.6),(70.5,71.7),(70.6,71.5),(70.7,71.7),(70.9,71.5),(71.1,71.8),(71.2,71.6),(71.5,71.9),(71.7,71.4),(71.9,71.8),(72.1,71.6),(72.3,71.4),(72.4,71.2),(72.6,71.5),(72.8,71.7),(73.0,71.3),(73.2,71.6),(73.4,71.3),(73.5,71.2),(73.7,71.5),(73.8,71.4),(74.2,71.3),(74.3,71.2),(74.5,71.0),(74.8,71.5),(75.1,71.0),(75.3,71.1),
(64.2,70.8),(64.4,70.7),(64.8,70.6),(65.2,71.1),(64.7,70.4),(64.9,70.3),(65.2,70.2),(65.4,70.2),(65.7,70.5),(65.8,70.8),(66.0,70.7),(66.2,70.5),(66.4,70.2),(66.7,70.2),(66.7,70.2),(66.9,70.7),(67.2,70.3),(67.3,69.9),(67.5,70.4),(67.7,70.2),(68.0,70.4),(68.2,70.5),(68.3,70.4),(68.5,71.0),(68.6,70.6),(68.9,70.5),(69.0,71.1),(69.0,70.9),(69.3,70.7),(69.4,70.3),(69.5,70.1),(69.7,70.4),(69.9,70.2),(70.1,70.2),(70.3,70.7),(70.4,70.5),(70.5,70.0),(70.6,70.2),(70.8,70.0),(70.9,70.7),(71.0,71.0),(71.1,70.2),(71.2,70.0),(71.4,70.4),(71.7,70.7),(71.7,70.2),(71.9,70.4),(72.1,70.1),(72.4,70.7),(72.4,71.0),(72.6,70.6),(72.7,70.8),(72.9,70.2),(73.1,70.2),(73.4,70.6),(73.5,71.2),(73.6,71.3),(73.8,70.2),(74.1,70.3),(74.3,70.7),(74.5,70.4),(74.8,70.4),
(63.2,69.1),(63.4,69.5),(63.7,69.2),(63.9,69.0),(64.2,69.1),(64.4,69.9),(64.7,69.6),(65.0,69.6),(65.2,69.2),(65.6,69.3),(65.8,69.7),(66.0,69.8),(66.2,69.5),(66.4,69.3),(66.7,69.1),(66.8,69.7),(66.9,69.6),(67.1,69.8),(67.2,70.0),(67.4,69.5),(67.6,69.6),(67.8,69.6),(67.9,69.5),(68.1,69.7),(68.3,70.0),(68.4,69.4),(68.6,69.3),(68.9,69.7),(69.1,69.5),(69.3,69.1),(69.5,69.7),(69.6,69.8),(69.8,70.0),(70.0,69.5),(70.2,69.6),(70.4,69.2),(70.5,69.7),(70.8,69.4),(70.9,69.7),(71.1,69.2),(71.2,69.6),(71.4,69.3),(71.6,69.8),(71.9,69.5),(72.1,69.7),(72.4,69.3),(72.5,69.3),(72.7,69.5),(73.1,69.6),(73.4,69.8),(73.6,69.5),(73.8,69.5),(74.1,69.5),(74.3,69.6),(74.7,69.5),(75.1,69.0),(75.3,69.3),(75.5,69.4),
(63.3,68.6),(63.6,68.5),(63.8,68.3),(64.1,68.7),(64.3,68.8),(64.5,68.5),(64.7,68.2),(64.9,68.4),(65.2,68.8),(65.4,68.5),(65.6,68.2),(65.8,68.8),(66.0,68.5),(66.2,68.2),(66.5,68.7),(66.7,68.2),(66.9,68.9),(67.1,68.6),(67.4,68.3),(67.5,68.8),(67.7,68.2),(67.9,68.5),(68.1,68.9),(68.3,68.3),(68.5,68.7),(68.6,69.0),(68.8,68.5),(69.0,68.2),(69.1,68.8),(69.3,68.6),(69.5,68.3),(69.7,68.7),(69.9,68.3),(70.1,68.9),(70.3,68.6),(70.4,68.2),(70.6,68.7),(70.8,68.0),(71.0,68.4),(71.2,68.9),(71.4,68.3),(71.6,68.7),(71.7,68.5),(71.9,68.2),(72.0,68.3),(72.4,68.8),(72.5,68.5),(72.7,68.7),(72.9,68.1),(73.1,68.3),(73.4,68.5),(73.6,68.8),(73.8,68.3),
(63.3,67.6),(63.5,67.4),(63.8,67.8),(63.9,67.1),(64.1,67.5),(64.4,67.9),(64.6,67.6),(64.8,67.2),(65.1,67.7),(65.3,67.4),(65.5,67.1),(65.7,67.9),(65.9,67.6),(66.2,67.3),(66.4,67.7),(66.5,67.1),(66.8,67.6),(67.0,67.9),(67.2,67.4),(67.4,67.1),(67.6,67.7),(67.8,67.4),(68.0,67.9),(68.1,67.5),(68.4,67.2),(68.5,67.8),(68.7,67.6),(68.9,67.1),(69.1,67.9),(69.3,67.5),(69.5,67.3),(69.7,67.8),(69.9,67.5),(70.1,67.2),(70.3,67.6),(70.6,67.8),(70.8,67.4),(70.9,67.2),(71.1,67.8),(71.4,67.3),(71.6,67.1),(71.9,67.6),(72.2,67.4),(72.4,67.8),
(63.2,66.9),(63.5,66.6),(63.7,66.7),(63.9,66.3),(64.1,66.9),(64.4,66.5),(64.6,66.9),(64.8,66.6),(65.1,66.3),(65.3,66.8),(65.5,66.5),(65.7,67.0),(65.9,66.7),(66.0,66.2),(66.3,66.7),(66.5,66.4),(66.7,66.8),(66.9,67.0),(67.1,66.6),(67.3,66.2),(67.5,66.8),(67.7,66.5),(67.8,66.9),(68.1,66.6),(68.3,66.2),(68.5,66.7),(68.6,67.0),(68.8,66.4),(69.0,66.8),(69.2,66.6),(69.4,66.3),(69.6,66.7),(69.8,66.2),(70.0,66.9),(70.1,66.4),(70.4,66.7),(70.6,66.3),(70.8,66.8),(71.1,66.6),(71.4,66.2),
(63.2,65.9),(63.4,65.5),(63.6,65.8),(63.8,65.3),(64.1,65.6),(64.3,65.9),(64.5,65.4),(64.8,65.8),(65.0,65.5),(65.2,65.3),(65.5,65.9),(65.7,65.6),(65.9,65.1),(66.2,65.8),(66.4,65.4),(66.6,66.0),(66.8,65.6),(67.0,65.3),(67.2,65.8),(67.4,65.5),(67.7,65.2),(67.8,65.7),(68.1,65.5),(68.3,65.9),(68.5,65.3),(68.8,65.6),(69.0,65.4),(69.3,65.8),(69.5,65.3),(69.8,65.6),(70.0,65.9),(70.3,65.4),(70.6,65.8),(70.9,65.3),(71.1,65.6),
(63.3,64.8),(63.6,64.3),(63.8,64.6),(64.0,64.2),(64.3,64.9),(64.5,64.4),(64.7,64.7),(64.9,64.1),(65.2,64.5),(65.4,64.3),(65.7,64.9),(65.9,64.5),(66.1,64.1),(66.4,64.8),(66.6,64.4),(66.9,64.8),(67.1,64.2),(67.4,64.6),(67.5,65.0),(67.7,64.4),(68.0,64.1),(68.2,64.8),(68.4,64.5),(68.6,64.3),(68.9,64.9),(69.1,64.2),(69.4,64.6),(69.6,64.4),(69.9,64.8),(70.3,64.5),(70.6,64.8),(70.8,64.2),(71.2,64.6),(71.7,64.5),
(63.2,63.8),(63.5,63.5),(63.8,63.9),(63.9,63.3),(64.2,63.6),(64.4,64.0),(64.7,63.4),(64.9,63.8),(65.2,63.5),(65.5,63.9),(65.7,63.4),(66.0,63.7),(66.3,63.3),(66.5,63.9),(66.8,63.6),(67.0,63.7),(67.4,63.3),(67.7,64.3),(67.9,64.4),(68.1,63.9),(68.4,63.7),(68.8,63.6),(69.0,63.9),(69.4,64.4),(69.6,64.0),(70.1,63.7),(70.6,64.0),(70.8,63.5),(71.0,63.7),(71.6,64.3),(72.2,63.8),(72.3,63.5),
(71.9,65.5),(72.1,65.0),(72.5,64.9),(72.9,64.8),(73.1,64.9),(72.7,65.4),(73.1,65.6),(73.5,65.6),(73.9,65.5),(74.2,66.5),(74.5,65.8),(74.8,66.1),(75.1,66.1),(75.3,66.5),(74.2,67.4),(74.5,67.4),(74.8,67.7),(75.1,68.2),(75.1,67.6),(74.3,66.6),(74.9,67.1),(73.7,67.7),(73.9,67.4),(73.4,67.6),(73.3,67.1),(72.7,68.1),(72.8,67.2),(72.6,66.9),(72.9,66.7),(71.5,65.9),(71.1,65.6),(71.2,65.3),(73.1,65.3)]

lower_right = [(63.7,63.3),(63.9,63.2),(64.1,63.2),(64.2,62.9),(64.4,63.1),(64.7,63.3),(64.9,63.3),(65.2,63.3),(65.3,63.1),(65.5,63.3),(65.9,63.1),(66.0,63.2),(66.3,63.1),(66.5,63.1),(66.8,62.9),(66.9,62.9),(67.1,63.0),(67.5,63.1),(67.8,63.2),(67.9,63.2),(68.1,62.9),(68.3,63.1),(68.5,62.9),(68.6,62.9),(69.2,63.2),(69.4,63.3),(69.8,63.3),(70.3,63.1),(70.9,63.2),(71.2,63.1),(71.6,63.1),(72.3,63.1),(73.0,62.9),
(63.3,62.8),(63.6,62.8),(63.8,62.5),(64.1,62.4),(64.3,62.6),(64.3,62.5),(64.4,62.3),(64.5,62.6),(64.8,63.0),(64.9,62.4),(65.0,62.2),(65.2,62.6),(65.4,62.3),(65.7,63.1),(65.9,62.3),(66.0,62.2),(66.2,62.8),(66.3,62.4),(66.4,62.1),(66.6,62.5),(66.9,62.5),(67.0,62.2),(67.2,62.2),(67.5,62.7),(67.7,62.0),(67.8,62.9),(68.1,62.1),(68.3,62.7),(68.5,62.5),(68.7,62.0),(69.0,62.2),(69.2,62.4),(69.3,62.8),(69.4,62.1),(69.9,62.4),(69.9,62.2),(70.3,62.5),(70.5,62.2),(70.6,62.5),(70.3,62.0),(70.3,62.0),(72.2,62.6),(72.3,62.9),(72.3,61.8),(71.7,61.1),(72.0,61.1),(72.3,60.8),(72.3,60.6),(73.5,61.1),(71.3,60.8),(71.9,59.9),(70.1,61.4),(70.0,60.9),(69.9,61.7),(69.6,61.3),(69.4,61.2),(69.0,61.0),(69.1,61.4),(69.2,61.6),(69.1,61.7),(68.6,61.6),(68.6,61.2),(68.6,60.7),(67.8,61.6),(67.8,61.1),(67.4,61.3),(67.2,61.3),(67.2,61.3),(67.3,61.9),(67.1,61.8),(66.8,61.2),(66.8,60.9),(67.0,61.0),(67.1,60.5),(67.0,60.3),(66.8,60.6),(66.4,61.4),(66.4,62.1),(66.0,62.2),(66.2,61.6),(65.9,61.2),(65.7,61.2),(65.8,60.9),(66.0,60.7),(65.5,60.9),(65.5,61.4),(65.2,61.2),(65.2,61.0),(65.1,60.9),(65.1,60.6),(65.2,60.3),(64.8,61.8),(64.9,62.1),(64.5,61.8),(64.6,61.6),(64.3,61.7),(64.1,61.5),(63.8,61.8),(63.6,62.0),(63.3,62.0),(63.3,61.5),(63.3,61.3),(63.6,61.0),(63.4,60.8),(63.4,60.8),(63.7,60.5),(63.8,60.4),(63.5,60.4),(63.3,60.4),(63.6,60.2),(64.1,60.9),(64.4,60.9),(64.4,60.6),(64.7,60.4),(64.7,60.4),(64.9,61.3),(64.6,61.0),(63.3,60.1),(63.8,59.9),(63.8,59.9),(64.1,60.1),(64.0,59.9),(64.2,59.7),(64.4,59.8),(64.5,59.8),(64.8,59.9),(64.9,59.7),(65.1,60.1),(65.3,60.0),(65.2,60.1),(65.3,59.7),(65.7,59.9),(65.9,60.1),(66.1,60.1),(66.2,60.0),(66.2,59.9),(65.7,59.5),(65.1,59.5),(65.1,59.5),(64.7,59.4),(64.4,59.1),(64.4,58.9),(64.8,59.0),(64.9,59.1),(65.1,58.8),(65.3,58.7),(65.6,58.4),(65.8,59.1),(65.9,59.1),(66.2,59.2),(66.4,59.1),(66.4,59.1),(66.1,58.9),(66.7,59.1),(66.9,59.4),(66.9,59.7),(67.2,59.3),(67.4,59.4),(67.4,59.0),(67.5,58.7),(67.6,60.0),(67.9,60.1),(68.1,60.0),(67.2,60.0),(68.1,59.2),(68.8,58.7),(69.1,58.0),(69.2,59.3),(69.4,59.9),(69.4,59.9),(69.9,59.7),(69.8,58.9),(69.7,57.4),(68.8,57.2),(68.0,58.1),(67.7,56.3),(66.9,57.0),(66.4,57.0),(66.3,56.4),(66.4,57.4),(66.2,57.7),(65.9,57.7),(66.1,58.1),(66.2,58.2),(65.2,56.9),(65.2,56.3),(65.1,57.7),(65.1,57.5),(64.9,58.1),(64.8,58.1),(64.9,58.3),(64.8,58.4),(64.5,57.8),(64.6,57.9),(64.4,58.4),(64.0,57.7),(64.0,57.4),(63.7,57.6),(63.5,57.5),(63.3,57.2),(63.5,57.2),(63.2,57.0),(63.9,58.2),(63.5,58.0),(63.8,56.3),(63.9,56.2),(64.2,56.1),(63.6,55.9),(63.5,55.5),(63.5,55.0),(63.3,54.8),(63.5,54.5),(64.2,55.0),(65.2,55.4),(65.4,54.8),(65.6,54.3),(65.5,53.6),(68.7,55.2),(71.3,56.2),(74.1,56.8),
(63.2,62.3),(63.3,62.2),(63.4,62.6),(63.2,61.8),(63.3,60.9),(63.6,60.6),(63.9,62.6),(64.1,62.4),(64.2,62.5),(64.3,62.6),(64.5,62.5),(63.7,61.5),(63.6,61.2),(63.9,60.7),(64.1,60.7)]

core_center = [(60.1,68.8),(60.9,68.5),(61.2,68.7),(61.5,68.7),(61.8,68.7),(62.2,68.7),(62.7,68.3),(62.7,68.1),(62.4,67.9),(62.9,67.9),(63.4,68.2),(63.6,68.6),(63.6,68.5),(63.9,68.2),(64.1,68.6),(64.3,68.4),(64.2,68.7),(64.5,68.7),(64.7,68.5),(64.8,68.3),(64.9,68.1),(65.0,68.5),(65.2,68.4),(65.2,68.7),(65.3,68.7),(65.5,68.8),(65.7,68.7),(65.6,68.4),(66.0,68.5),(65.9,68.3),(66.1,68.4),(66.4,68.0),(66.4,68.2),(66.7,68.3),(66.9,68.4),(66.7,68.8),(66.9,68.8),(67.1,68.8),(67.2,68.3),(67.4,68.6),(67.7,68.7),(67.9,68.7),(67.9,68.3),(68.4,68.2),(68.5,68.7),(68.2,67.8),(68.8,68.3),(65.7,68.1),(66.1,67.9),(66.0,67.9),(66.8,68.2),(67.1,67.9),(67.5,67.9),(60.1,68.0),(60.3,68.0),(60.7,67.9),(60.9,67.9),(61.6,67.9),
(60.2,67.7),(60.4,67.6),(60.7,67.3),(61.1,67.4),(61.1,67.1),(61.2,66.9),(61.4,67.0),(61.6,67.3),(61.7,67.4),(61.5,67.1),(62.4,67.4),(62.4,67.2),(62.6,67.5),(62.8,67.2),(62.9,67.6),(63.2,67.5),(63.3,67.6),(63.4,67.1),(63.5,67.8),(63.5,67.3),(63.6,67.2),(63.8,67.2),(63.9,67.8),(64.0,67.7),(64.1,67.3),(64.3,67.1),(64.5,67.4),(64.5,67.4),(64.7,67.2),(64.6,67.9),(64.7,67.9),(64.8,67.5),(65.0,67.6),(65.1,67.5),(65.3,67.5),(65.2,67.7),(65.3,67.2),(65.6,67.2),(65.6,67.2),(65.7,67.6),(65.8,67.5),(66.1,67.6),(66.1,67.4),(65.8,67.0),(66.0,66.9),(66.2,67.1),(66.4,67.6),(66.5,67.6),(66.6,67.4),(66.7,67.5),(66.8,67.3),(66.9,67.2),(67.0,67.1),(67.1,66.9),(67.2,67.5),(67.4,67.4),(67.2,67.2),(67.4,66.9),(67.5,67.2),(67.7,67.0),(67.7,67.7),(67.9,67.4),(68.1,67.5),(68.3,67.5),(68.6,67.4),(68.3,67.8),(68.4,67.2),(68.7,67.1),(67.9,67.1),(68.1,67.0),
(60.0,66.5),(60.0,66.2),(60.5,66.4),(60.7,66.5),(61.1,66.6),(61.5,66.4),(61.5,66.4),(61.5,66.8),(61.5,66.0),(61.6,66.0),(61.9,66.4),(62.2,66.6),(62.2,66.6),(62.4,66.6),(62.6,66.7),(62.4,66.2),(62.6,65.9),(62.8,66.3),(62.8,66.3),(63.0,66.3),(63.1,66.3),(62.9,66.7),(63.3,66.8),(63.4,66.8),(63.6,66.9),(63.4,66.5),(63.6,66.6),(63.8,66.4),(63.8,66.2),(64.0,66.5),(64.3,66.0),(64.4,66.8),(64.5,66.4),(64.6,66.2),(64.7,66.6),(64.9,66.2),(65.0,66.5),(65.2,66.0),(65.2,66.0),(65.7,66.1),(65.7,66.5),(65.8,66.5),(66.0,66.6),(66.0,66.2),(66.0,66.1),(66.1,66.4),(66.3,65.9),(66.4,66.7),(66.6,66.4),(66.6,66.0),(66.8,66.0),(66.9,66.4),(67.1,66.5),(67.2,66.4),(67.3,66.1),(67.5,66.2),(67.7,66.2),(67.8,66.6),(67.9,66.5),(68.1,66.6),(68.1,66.1),(68.4,66.2),(68.7,66.4),
(60.2,65.6),(60.2,65.2),(60.5,65.6),(60.8,65.7),(60.6,65.4),(60.5,65.2),(60.8,65.0),(61.2,65.7),(61.5,65.4),(61.3,65.1),(61.5,64.8),(61.6,65.6),(61.9,65.4),(62.1,65.3),(62.3,65.2),(62.4,65.4),(62.4,65.8),(62.6,65.9),(62.8,65.2),(62.9,65.5),(63.1,65.7),(63.4,65.6),(63.4,65.1),(63.6,65.5),(63.7,65.4),(63.8,65.4),(63.6,65.2),(63.9,65.1),(64.1,65.1),(64.3,65.3),(64.3,65.5),(64.5,65.8),(64.5,65.7),(64.7,65.7),(64.9,65.9),(65.0,65.7),(65.0,66.0),(64.7,65.3),(64.9,65.1),(65.0,65.1),(65.1,64.9),(65.3,65.6),(65.5,65.4),(65.4,65.1),(65.5,64.9),(65.7,65.5),(65.8,65.4),(66.1,65.5),(66.1,65.3),(66.5,65.1),(66.6,65.1),(66.8,65.2),(67.0,65.3),(66.6,65.8),(66.9,65.8),(67.1,65.8),(67.4,65.7),(67.4,65.5),(67.5,65.3),(67.7,65.3),(68.0,65.2),(68.3,65.1),(68.6,64.9),(68.1,65.6),(68.4,65.8),(68.7,65.9),
(60.1,64.8),(60.1,64.3),(60.6,64.7),(60.5,64.5),(61.0,64.6),(61.2,64.4),(61.5,64.4),(61.7,64.6),(61.9,64.7),(61.7,64.2),(62.1,64.4),(62.4,64.8),(62.6,64.6),(62.8,64.3),(62.9,64.0),(63.2,64.8),(63.4,64.9),(63.4,64.5),(63.6,64.6),(63.4,64.2),(63.6,64.2),(63.9,64.3),(64.0,64.7),(64.3,64.7),(64.4,64.5),(64.6,64.7),(64.7,64.5),(64.9,64.6),(65.0,64.9),(65.1,64.6),(65.3,64.5),(65.4,64.8),(65.4,64.4),(65.7,64.9),(65.8,64.3),(66.0,64.8),(66.0,64.7),(66.2,64.9),(66.5,64.3),(66.7,64.3),(66.8,64.5),(67.1,64.3),(67.3,64.7),(67.6,64.2),(67.7,63.9),(67.9,64.3),(68.0,64.3),(68.2,64.9),(68.3,64.8),(68.4,63.8),(68.6,64.9),
(60.1,63.8),(60.3,63.7),(60.6,63.6),(60.8,63.7),(61.1,63.8),(61.3,63.3),(61.6,63.3),(61.8,63.6),(62.0,63.5),(62.2,63.4),(62.4,63.7),(62.5,63.6),(62.6,63.5),(62.8,63.5),(62.9,63.9),(63.1,63.5),(63.2,63.4),(63.4,63.2),(63.6,63.3),(63.8,63.2),(63.9,63.1),(64.1,63.1),(64.1,63.6),(64.2,63.4),(64.3,63.0),(64.5,63.4),(64.7,63.9),(64.9,63.8),(65.0,63.7),(65.1,63.6),(65.3,63.4),(65.6,63.4),(65.6,63.3),(65.5,63.6),(65.7,63.8),(66.1,63.7),(66.2,63.7),(66.5,63.1),(66.8,63.5),(66.8,63.4),(67.1,63.5),(67.4,63.5),(67.6,63.5),(67.6,63.9),(67.7,63.8),(67.2,63.0),(66.8,62.8),(67.1,63.0),(67.5,63.1),(67.8,63.2),(68.1,63.0),(68.4,63.6),(68.7,63.8),
(60.0,62.4),(60.2,62.8),(60.6,62.5),(60.8,62.3),(61.0,62.3),(61.2,62.6),(61.6,62.4),(61.9,62.6),(61.9,62.2),(62.1,62.7),(62.3,62.2),(62.4,62.2),(62.4,62.8),(62.6,62.6),(62.9,62.3),(63.1,62.5),(63.2,62.2),(63.4,62.7),(63.6,62.0),(63.9,62.8),(64.1,62.4),(64.2,62.9),(64.3,62.6),(64.5,62.3),(65.0,62.7),(65.1,62.6),(65.4,62.3),(65.9,62.2),(65.9,62.3),(66.2,62.4),(66.4,62.0),(66.6,62.2),(66.8,62.2),(67.2,62.0),(67.5,62.7),(67.7,62.0),(68.1,62.1),(68.5,62.5),(68.7,62.0),
(60.1,61.8),(60.2,61.4),(60.5,61.5),(60.8,61.3),(61.1,61.6),(61.3,61.7),(61.6,61.7),(61.9,61.6),(62.1,61.5),(62.3,61.5),(62.5,61.6),(62.7,61.4),(62.9,61.3),(63.1,61.2),(63.2,61.7),(63.5,61.2),(63.6,61.1),(63.9,61.5),(64.1,60.9),(64.3,60.8),(64.5,61.7),(64.5,61.7),(64.7,61.9),(65.0,61.2),(65.1,61.2),(65.3,61.6),(65.4,61.4),(65.6,61.1),(65.8,60.9),(66.0,61.2),(66.2,61.3),(66.8,61.2),(67.1,61.2),(67.2,61.5),(67.4,61.2),(67.7,61.9),(67.9,61.5),(68.6,61.6),
(60.1,60.9),(60.3,60.6),(60.6,60.7),(60.9,60.3),(61.2,60.7),(61.6,60.3),(61.9,60.1),(62.1,60.4),(62.4,60.5),(62.6,60.3),(63.0,60.7),(63.4,60.6),(63.4,60.7),(63.6,60.4),(63.7,60.1),(64.2,60.9),(64.3,60.6),(64.4,60.5),(64.7,60.4),(65.0,60.7),(65.1,60.8),(65.3,60.6),(65.7,60.3),(66.0,60.5),(66.2,60.4),(66.6,60.3),(66.8,60.4),(67.1,60.5),(67.4,60.2),(67.9,60.1)]

core_upper = [(68.3,75.4),(68.7,75.1),(69.0,75.3),(69.4,75.2),(69.8,75.5),(70.2,75.4),(70.4,75.4),(70.6,75.4),(70.9,75.4),(71.0,75.4),(70.0,75.0),(69.9,74.7),(70.4,74.6),(70.8,74.6),(71.2,75.0),(71.2,74.6),(71.5,74.9),(71.6,74.6),(71.8,75.2),(72.2,75.1),(72.4,75.0),(72.6,75.4),(72.8,75.4),(72.9,75.2),(73.2,75.1),(73.3,74.9),(73.5,75.4),(73.8,75.3),(74.0,75.1),(74.2,75.4),(74.2,74.9),(74.6,75.1),(74.7,74.8),(74.8,74.6),(75.0,75.0),(75.3,74.7),(75.5,75.2),(75.9,75.2),(67.6,74.8),(68.1,74.6),(68.4,74.5),(69.0,74.6),
(67.2,74.4),(67.7,74.3),(68.4,74.2),(68.7,74.2),(69.1,74.2),(69.3,74.0),(69.6,74.3),(69.7,73.8),(70.0,74.3),(68.6,73.8),(68.4,73.7),(68.2,73.6),(70.6,73.8),(70.7,73.9),(70.9,73.8),(70.4,73.7),(70.9,74.3),(71.2,74.3),(71.3,74.4),(71.6,74.1),(71.8,74.2),(72.1,74.4),(72.1,74.0),(72.5,74.3),(72.8,74.3),(72.9,73.9),(73.0,74.5),(73.4,74.6),(73.7,74.2),(74.0,74.4),(74.2,74.0),(74.7,73.7),(74.9,73.8),(75.2,74.3),(75.5,73.9),(75.7,73.9),(76.0,74.2),(71.0,73.7),(71.3,73.8),(71.9,73.7),(71.3,73.5),
(67.4,73.3),(68.1,73.3),(68.4,73.2),(68.7,73.3),(68.9,73.3),(68.5,73.2),(68.5,73.1),(68.7,72.9),(68.3,72.9),(68.0,72.7),(69.4,72.8),(69.5,72.8),(69.7,73.0),(69.3,73.3),(70.2,73.1),(70.4,72.9),(70.6,73.2),(70.9,73.3),(71.1,73.1),(71.4,73.5),(71.5,73.1),(71.8,73.4),(71.9,73.6),(72.2,73.3),(72.3,73.1),(72.6,72.9),(72.9,73.2),(73.2,73.2),(73.3,72.9),(73.5,73.1),(73.8,73.5),(74.0,72.9),(74.3,73.1),(74.5,73.4),(74.7,73.0),(74.9,73.2),(75.2,72.9),(75.6,72.8),(75.9,73.2),(76.1,73.2),
(67.3,72.6),(67.5,72.5),(67.8,72.2),(68.0,72.4),(68.2,72.3),(68.5,72.4),(68.7,72.3),(68.9,72.5),(69.1,72.5),(69.4,72.2),(69.2,72.1),(69.2,72.0),(69.6,72.0),(70.0,71.9),(70.0,72.2),(70.3,72.5),(70.6,72.2),(70.9,72.1),(71.1,72.4),(71.4,72.4),(71.7,72.6),(71.9,72.5),(71.7,72.2),(72.0,72.2),(72.1,72.1),(72.4,72.0),(72.6,72.1),(72.9,72.4),(73.2,72.3),(73.3,72.0),(73.6,72.4),(73.8,72.5),(74.0,72.8),(74.3,72.1),(74.5,72.5),(74.7,72.3),(74.8,72.2),(75.2,72.0),(75.3,72.8),(75.4,72.8),(75.9,71.6),(75.1,71.7),(74.6,71.6),(74.7,71.8),(74.2,72.1),
(67.3,71.2),(67.5,71.0),(67.7,71.4),(68.1,71.6),(68.3,71.5),(68.5,71.0),(68.7,70.9),(68.9,71.3),(68.9,71.0),(69.1,70.7),(69.4,70.9),(69.6,71.3),(69.9,71.2),(70.0,71.3),(70.2,70.9),(70.4,71.5),(70.7,71.6),(70.9,71.2),(71.1,71.1),(71.2,71.2),(71.4,70.9),(71.8,71.0),(72.1,71.2),(72.4,70.9),(72.7,71.1),(72.9,71.2),(73.1,71.0),(73.4,71.0),(73.5,71.2),(73.8,71.0),(74.2,71.0),(74.3,71.3),(74.7,70.9),(74.9,71.2),(75.2,70.9),(75.5,71.3),(75.8,70.6),
(67.2,70.3),(67.5,70.2),(67.7,70.1),(68.3,70.5),(68.5,70.6),(68.7,70.6),(68.9,70.7),(69.1,70.3),(69.4,70.2),(69.6,70.6),(69.9,70.2),(70.2,69.9),(70.6,70.2),(70.9,70.2),(71.1,69.9),(71.4,70.5),(71.7,70.1),(71.9,70.2),(72.2,70.0),(72.5,69.8),(72.6,69.9),(72.9,69.8),(73.2,69.5),(73.5,69.6),(73.8,70.2),(74.1,70.3),(74.4,70.2),(74.7,70.2),(75.2,70.4),
(67.6,69.6),(67.8,69.5),(68.1,69.4),(68.4,69.5),(68.7,69.6),(69.1,69.4),(69.4,69.3),(69.6,69.1),(69.9,69.5),(70.2,69.6),(70.4,69.3),(70.6,69.0),(70.9,69.6),(71.1,69.4),(71.3,69.2),(71.7,69.0),(72.0,68.8),(72.2,69.2),(72.4,68.7),(72.6,69.2),(72.9,69.3),(73.2,69.0),(73.4,69.2),(73.6,68.7),(74.0,68.9),(74.3,68.8),(74.6,69.0),(74.9,68.8),(75.2,69.3),(75.5,69.4),
(67.3,68.3),(67.7,68.7),(67.9,68.3),(68.2,68.6),(68.5,68.2),(68.7,68.5),(68.9,68.2),(69.2,67.9),(69.5,68.4),(69.8,68.3),(70.0,68.0),(70.2,68.2),(70.4,68.5),(70.6,68.3),(70.9,68.0),(71.2,68.3),(71.4,68.6),(71.8,68.4),(72.0,68.6),(72.2,68.2),(72.4,68.6),(72.6,68.2),(72.9,68.6),(73.3,68.2),(73.6,68.3),(73.8,67.7),(74.1,67.6),(74.7,68.3),(75.1,68.2),(75.6,67.7),
(67.4,67.5),(67.7,67.3),(68.0,67.1),(68.3,67.2),(68.5,67.6),(68.8,67.3),(69.2,67.3),(69.5,67.2),(69.7,67.0),(70.0,67.5),(70.2,67.3),(70.6,67.1),(70.9,67.7),(71.1,67.6),(71.4,67.3),(71.8,67.5),(72.2,67.2),(72.4,67.6),(72.6,67.0),(73.2,67.0),(73.8,67.2),(74.1,67.6),(74.7,67.1),(74.8,67.5)]

# identity reference line (from youngest to oldest real age)
line_real = [45.0, 81.5]
line_pred = [45.0, 81.5]

x_ticks = [50, 60, 70, 80]
y_ticks = [50, 60, 70, 80]

title_text = "Predicted Age as a Function of Real Age"
x_title = "Real Age"
y_title = "Predicted Age"

# ---- build ----
pts = upper_left + lower_left + upper_right + lower_right + core_center + core_upper
df = pd.DataFrame(pts, columns=["real", "pred"])
line_df = pd.DataFrame({"real": line_real, "pred": line_pred})

W, H = 2233, 2232
FONT = "Liberation Serif"

xs = alt.Scale(domain=[43.94, 82.58], nice=False, zero=False)
ys = alt.Scale(domain=[43.95, 82.57], nice=False, zero=False)

x_axis = alt.Axis(
    values=x_ticks, title=x_title, grid=True, gridColor="#e0e0e0", gridWidth=1.5,
    domainColor="black", domainWidth=4, ticks=False, tickSize=0,
    labelAngle=45, labelAlign="center", labelBaseline="middle", labelPadding=63,
    labelFont=FONT, labelFontSize=80, labelColor="black", labelOverlap=False,
    titleFont=FONT, titleFontSize=74, titleFontWeight="normal", titleColor="black",
    titleBaseline="alphabetic", titleY=188, titleAnchor="middle",
)
y_axis = alt.Axis(
    values=y_ticks, title=y_title, grid=True, gridColor="#e0e0e0", gridWidth=1.5,
    domainColor="black", domainWidth=4, ticks=False, tickSize=0,
    labelPadding=14, labelBaseline="middle",
    labelFont=FONT, labelFontSize=80, labelColor="black", labelOverlap=False,
    titleFont=FONT, titleFontSize=74, titleFontWeight="normal", titleColor="black",
    titleAngle=270, titleBaseline="alphabetic", titleX=-126, titleY=H / 2,
    titleAlign="center",
)

points = alt.Chart(df).mark_circle(
    size=140, fill="#30a8f0", fillOpacity=0.4, stroke="black",
    strokeOpacity=0.33, strokeWidth=3, opacity=1,
).encode(
    x=alt.X("real:Q", scale=xs, axis=x_axis),
    y=alt.Y("pred:Q", scale=ys, axis=y_axis),
)

diag = alt.Chart(line_df).mark_line(
    color="#006400", strokeWidth=4, strokeDash=[12, 5.5, 3, 5.5],
).encode(
    x=alt.X("real:Q", scale=xs, axis=x_axis),
    y=alt.Y("pred:Q", scale=ys, axis=y_axis),
)

xtick_df = pd.DataFrame({"real": x_ticks})
ytick_df = pd.DataFrame({"pred": y_ticks})
xticks = alt.Chart(xtick_df).mark_rule(color="black", strokeWidth=1.5).encode(
    x=alt.X("real:Q", scale=xs, axis=x_axis),
    y=alt.value(H), y2=alt.value(H - 14),
)
yticks = alt.Chart(ytick_df).mark_rule(color="black", strokeWidth=1.5).encode(
    y=alt.Y("pred:Q", scale=ys, axis=y_axis),
    x=alt.value(0), x2=alt.value(14),
)

chart = alt.layer(points, diag, xticks, yticks).properties(
    width=W, height=H,
    autosize=alt.AutoSizeParams(type="none"),
    padding={"left": 210, "top": 152, "right": 38, "bottom": 231},
    title=alt.TitleParams(
        text=title_text, font=FONT, fontSize=108, fontWeight="normal",
        color="black", anchor="middle", baseline="alphabetic", offset=-49,
    ),
    background="white",
).configure_view(stroke=None)

chart.save("out.html", embed_options={"renderer": "svg", "actions": False})
